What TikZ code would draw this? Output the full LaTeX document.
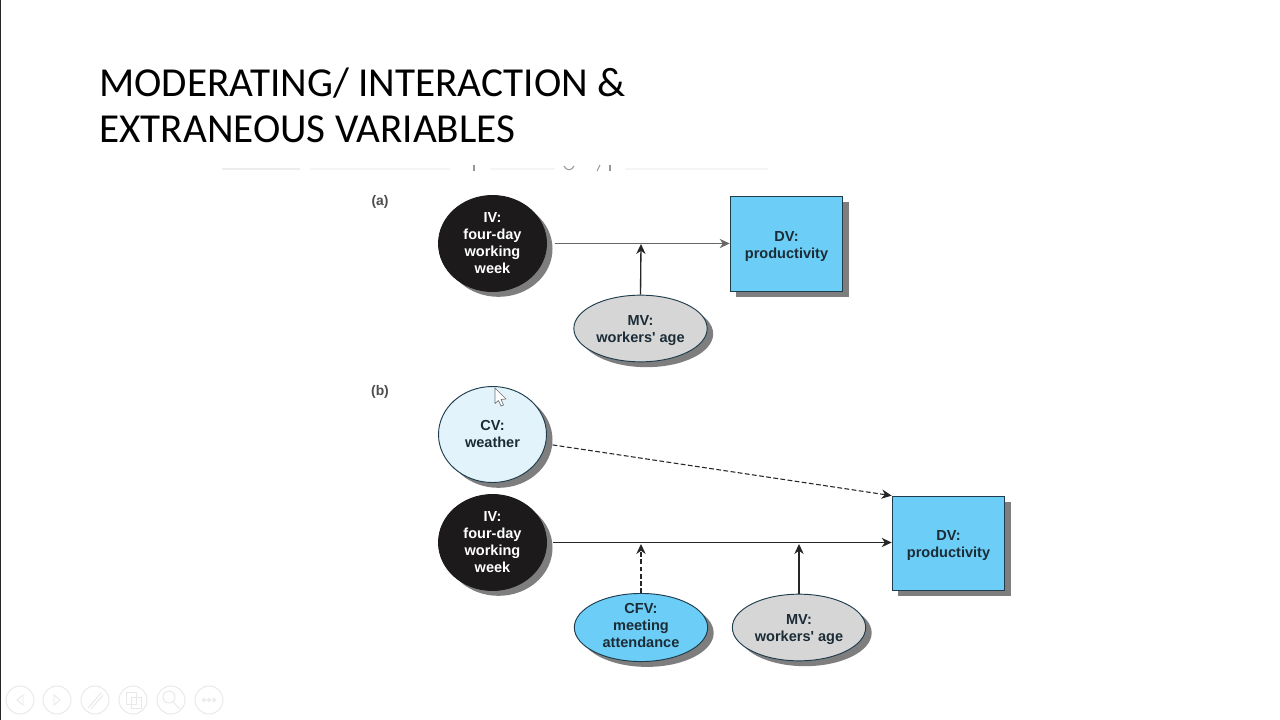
\documentclass[tikz,border=0pt]{standalone}
\usepackage{fontspec}
\setmainfont{Liberation Sans}
\newfontfamily\titlefont{Carlito}
\usetikzlibrary{shapes.geometric,shadows,arrows.meta}
\definecolor{shadowgrey}{HTML}{7E7E7E}
\definecolor{inkdark}{HTML}{1C1A1B}
\definecolor{mvgrey}{HTML}{D6D6D6}
\definecolor{paleblue}{HTML}{E2F3FB}
\definecolor{skyblue}{HTML}{6CCDF6}
\definecolor{edgeblue}{HTML}{1E3C4C}
\definecolor{labelink}{HTML}{1C2C36}
\definecolor{navgrey}{HTML}{E8E8E8}
\newcommand{\downstrut}{\rule{0pt}{11pt}}
\newcommand{\upstrut}{\rule[-3pt]{0pt}{3pt}}
\newcommand{\smallupstrut}{\rule[-1.5pt]{0pt}{1.5pt}}
\tikzset{
  x=0.75pt,y=-0.75pt,
  labelfont/.style={font=\fontsize{10.9}{12.75}\selectfont\bfseries,align=center,text=labelink},
  shade3/.style={drop shadow={shadow xshift=4.5pt,shadow yshift=-4pt,fill=shadowgrey,opacity=1}},
  circ/.style={ellipse,inner sep=0pt,minimum width=81pt,minimum height=72pt,line width=0.7pt,shade3,labelfont},
  oval/.style={ellipse,inner sep=0pt,minimum width=100pt,minimum height=50pt,line width=0.7pt,shade3,labelfont},
  dvbox/.style={rectangle,inner sep=0pt,minimum width=84.5pt,minimum height=71pt,draw=edgeblue,fill=skyblue,line width=0.8pt,shade3,labelfont},
  ivnode/.style={circ,draw=inkdark,fill=inkdark,text=white},
  cvnode/.style={circ,draw=edgeblue,fill=paleblue},
  mvnode/.style={oval,draw=edgeblue,fill=mvgrey},
  cfvnode/.style={oval,draw=edgeblue,fill=skyblue},
  link/.style={draw=black!85,line width=0.8pt,-{Stealth[length=7.5pt,width=7pt]}},
  dashlink/.style={link,dash pattern=on 3.6pt off 1.8pt},
  titletext/.style={anchor=base west,font=\titlefont\fontsize{30.9}{34}\selectfont,inner sep=0pt,text=black},
  partlabel/.style={anchor=center,inner sep=0pt,font=\fontsize{10.4}{12}\selectfont\bfseries,text=black!70},
  navring/.style={draw=navgrey,line width=0.7pt},
}
\begin{document}
\begin{tikzpicture}
\useasboundingbox (0,0) rectangle (1280,720);
\fill[white] (0,0) rectangle (1280,720);
\fill[black!85] (0,0) rectangle (1,720);

% title
\node[titletext] (t1) at (99,97) {MODERATING/ INTERACTION \&};
\node[titletext] (t2) at (99,143) {EXTRANEOUS VARIABLES};

% faint remains of a hidden line of text
\draw[black!7,line width=1.2pt] (222,169) -- (300,169);
\draw[black!4,line width=1.2pt] (310,169) -- (450,169) (490,169) -- (555,169) (625,169) -- (768,169);
\draw[black!40,line width=0.8pt] (474,165) -- (474,171);
\draw[black!40,line width=0.8pt] (564,166) .. controls (566,171) and (572,171) .. (574,166);
\draw[black!40,line width=0.8pt] (600,165) -- (597,171);
\draw[black!40,line width=0.8pt] (610,165) -- (610,171);

% part labels
\node[partlabel] (pa) at (380,202) {(a)};
\node[partlabel] (pb) at (380,392) {(b)};

% panel a
\node[ivnode] (ivA) at (492.5,243.5) {IV:\\four-day\\working\\week};
\node[dvbox] (dvA) at (786.5,244) {\downstrut DV:\\productivity};
\node[mvnode] (mvA) at (640.5,328.5) {\downstrut MV:\\workers\textquotesingle\ age};
\coordinate (jA) at (641,244);
\draw[link,draw=black!60,shorten <=6pt] (ivA.east) -- (ivA.east -| dvA.west);
\draw[link,line width=1pt] (mvA.north) -- (jA);

% panel b
\node[cvnode] (cv) at (492.5,434.5) {CV:\\weather\smallupstrut};
\node[ivnode] (ivB) at (492.5,542.5) {IV:\\four-day\\working\\week};
\node[dvbox] (dvB) at (948.5,543.5) {\downstrut DV:\\productivity};
\node[cfvnode] (cfv) at (641,627.5) {CFV:\\meeting\\attendance\upstrut};
\node[mvnode] (mvB) at (799,627.5) {\downstrut MV:\\workers\textquotesingle\ age};
\coordinate (jB) at (641,544);
\coordinate (jC) at (799,544);
\draw[dashlink,shorten <=5pt] (cv.-10) -- (dvB.north west);
\draw[link,shorten <=4.5pt] (ivB.east) -- (ivB.east -| dvB.west);
\draw[dashlink] (cfv.north) -- (jB);
\draw[link] (mvB.north) -- (jC);

% mouse pointer
\draw[black!55,fill=white,line width=0.5pt,line join=round]
  (495,388) -- (495,403.5) -- (498.5,400.5) -- (501,406) -- (503.5,405) -- (501,399.5) -- (506,399) -- cycle;

% slide-show controls
\foreach \cx/\nm in {20/a,57/b,95/c,133/d,171/e,209/f}
  \draw[navring] (\cx,700) circle (14);
\draw[navring] (23,695) -- (17,700) -- (23,705) -- cycle;
\draw[navring] (54,695) -- (60,700) -- (54,705) -- cycle;
\draw[navring] (88,708) -- (101,693) (91,709) -- (103,695);
\draw[navring] (126,692) rectangle (136,704) (131,697) rectangle (141,708);
\draw[navring] (169,697) circle (6) (173,702) -- (180,709);
\draw[navring] (204,700) circle (1.6) (209,700) circle (1.6) (214,700) circle (1.6);
\end{tikzpicture}
\end{document}
